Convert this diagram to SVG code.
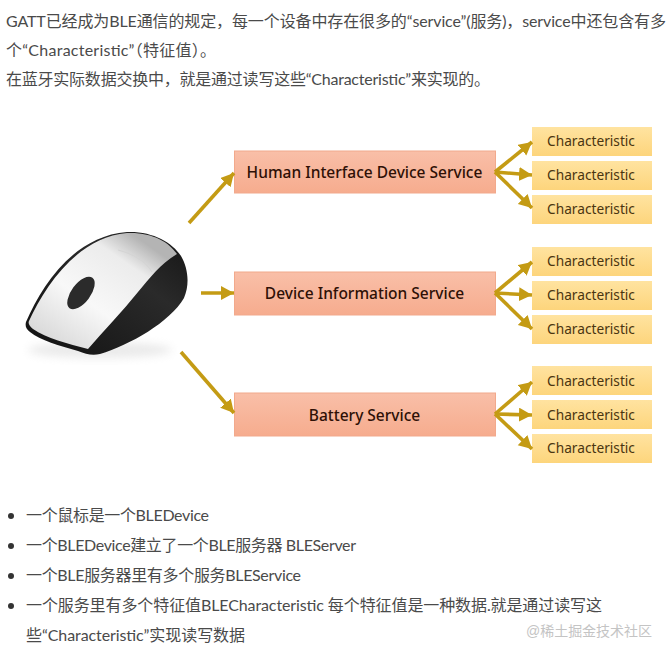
<svg xmlns="http://www.w3.org/2000/svg" width="669" height="657" viewBox="0 0 669 657">
<style>
.t{font-family:"Lato","Noto Sans CJK SC",sans-serif;font-size:16px;fill:#4a4a4a}
.svc{fill:url(#sg);stroke:#f2a98c;stroke-width:1}
.chr{fill:url(#cg)}
.sl{font-family:"Noto Sans",sans-serif;font-size:15.5px;font-weight:500;fill:#2e1006;text-anchor:middle}
.cl{font-family:"Noto Sans",sans-serif;font-size:13.7px;fill:#4a3510;text-anchor:middle}
.c path{fill:none;stroke:#c49b14;stroke-width:3.6;marker-end:url(#ah)}
</style>
<defs>
<linearGradient id="sg" x1="0" y1="0" x2="0" y2="1"><stop offset="0" stop-color="#f9bfa8"/><stop offset="1" stop-color="#f6ac8e"/></linearGradient>
<linearGradient id="cg" x1="0" y1="0" x2="0" y2="1"><stop offset="0" stop-color="#ffe3a0"/><stop offset="1" stop-color="#fdd57c"/></linearGradient>
<linearGradient id="shell" x1="0.1" y1="0.9" x2="0.8" y2="0.1"><stop offset="0" stop-color="#d9d9d9"/><stop offset="0.4" stop-color="#f8f8f8"/><stop offset="0.8" stop-color="#ececec"/><stop offset="1" stop-color="#b4b4b4"/></linearGradient>
<linearGradient id="side" x1="0" y1="1" x2="1" y2="0"><stop offset="0" stop-color="#111"/><stop offset="0.65" stop-color="#2a2a2a"/><stop offset="1" stop-color="#141414"/></linearGradient>
<filter id="bl" x="-20%" y="-40%" width="140%" height="180%"><feGaussianBlur stdDeviation="4"/></filter>
<marker id="ah" markerUnits="userSpaceOnUse" markerWidth="16" markerHeight="16" refX="13" refY="7" orient="auto"><path d="M0 0L13 7L0 14Z" fill="#c49b14"/></marker>
</defs>
<rect width="669" height="657" fill="#fff"/>
<text class="t" x="6" y="27" textLength="660">GATT已经成为BLE通信的规定，每一个设备中存在很多的“service”(服务)，service中还包含有多</text>
<text class="t" x="6" y="56" textLength="210">个“Characteristic”（特征值）。</text>
<text class="t" x="6" y="85" textLength="484">在蓝牙实际数据交换中，就是通过读写这些“Characteristic”来实现的。</text>
<g id="mouse">
<ellipse cx="100" cy="350" rx="72" ry="8" fill="#ccc" opacity=".4" filter="url(#bl)"/>
<path d="M26 322C42 285 74 236 127 232C152 231 172 242 181 256C188 268 190 284 184 298C170 322 130 345 100 354C92 356 86 354 78 351C60 346 40 340 30 332C26 329 25 326 26 322Z" fill="url(#side)"/>
<path d="M29 321C45 286 78 237 127 233C152 232 169 242 177 254C160 264 150 278 138 292C122 312 104 330 88 349C68 344 46 338 33 329C29 326 28 323 29 321Z" fill="url(#shell)"/>
<path d="M118 250C134 254 146 262 152 272" fill="none" stroke="#d4d4d4" stroke-width="1"/>
<ellipse cx="81" cy="293" rx="19" ry="9.500" transform="rotate(-53 81 293)" fill="#2b2b2b"/>
</g>
<g id="s1"><rect class="svc" x="234.500" y="151" width="261" height="42"/><text class="sl" x="364.500" y="178">Human Interface Device Service</text></g>
<g id="s2"><rect class="svc" x="234.500" y="272" width="261" height="43"/><text class="sl" x="364.500" y="299">Device Information Service</text></g>
<g id="s3"><rect class="svc" x="234.500" y="393" width="261" height="43"/><text class="sl" x="364.500" y="421">Battery Service</text></g>
<g id="c11"><rect class="chr" x="532" y="127" width="120" height="29"/><text class="cl" x="591" y="146">Characteristic</text></g>
<g id="c12"><rect class="chr" x="532" y="161" width="120" height="29"/><text class="cl" x="591" y="180">Characteristic</text></g>
<g id="c13"><rect class="chr" x="532" y="195" width="120" height="29"/><text class="cl" x="591" y="214">Characteristic</text></g>
<g id="c21"><rect class="chr" x="532" y="247" width="120" height="29"/><text class="cl" x="591" y="266">Characteristic</text></g>
<g id="c22"><rect class="chr" x="532" y="281" width="120" height="29"/><text class="cl" x="591" y="300">Characteristic</text></g>
<g id="c23"><rect class="chr" x="532" y="315" width="120" height="29"/><text class="cl" x="591" y="334">Characteristic</text></g>
<g id="c31"><rect class="chr" x="532" y="366" width="120" height="29"/><text class="cl" x="591" y="386">Characteristic</text></g>
<g id="c32"><rect class="chr" x="532" y="400" width="120" height="29"/><text class="cl" x="591" y="420">Characteristic</text></g>
<g id="c33"><rect class="chr" x="532" y="434" width="120" height="29"/><text class="cl" x="591" y="453">Characteristic</text></g>
<g id="connectors" class="c">
<path d="M189 223L234 173"/><path d="M201 293L234 293"/><path d="M181 352L234 413"/>
<path d="M495 172L532 142"/><path d="M495 172L532 175"/><path d="M495 172L532 208"/>
<path d="M495 293L532 262"/><path d="M495 293L532 295"/><path d="M495 293L532 329"/>
<path d="M495 414L532 382"/><path d="M495 414L532 415"/><path d="M495 414L532 449"/>
</g>
<g fill="#333"><circle cx="11" cy="516" r="3"/><circle cx="11" cy="546" r="3"/><circle cx="11" cy="576" r="3"/><circle cx="11" cy="606" r="3"/></g>
<text class="t" x="26" y="521" textLength="183">一个鼠标是一个BLEDevice</text>
<text class="t" x="26" y="551" textLength="330">一个BLEDevice建立了一个BLE服务器 BLEServer</text>
<text class="t" x="26" y="581" textLength="275">一个BLE服务器里有多个服务BLEService</text>
<text class="t" x="26" y="611" textLength="576">一个服务里有多个特征值BLECharacteristic 每个特征值是一种数据.就是通过读写这</text>
<text class="t" x="26" y="641" textLength="219">些“Characteristic”实现读写数据</text>
<text x="526" y="636" textLength="126" style="font-family:'Liberation Sans','Noto Sans CJK SC',sans-serif;font-size:14px;fill:#c4c4c4">@稀土掘金技术社区</text>
</svg>
